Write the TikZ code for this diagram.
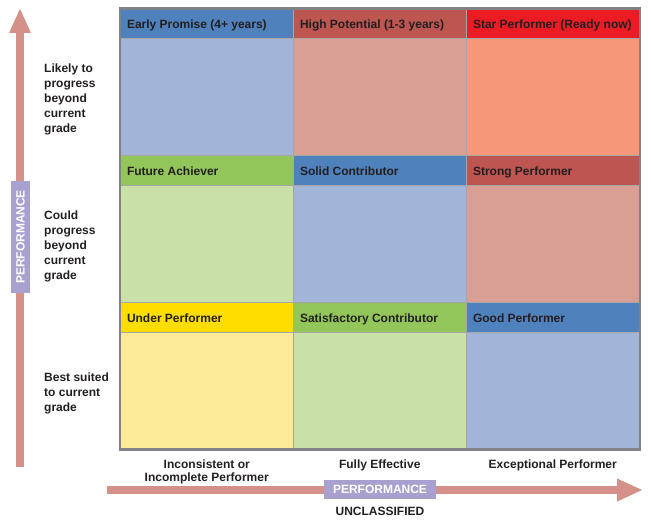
\documentclass[tikz,border=0pt]{standalone}
\usepackage{fontspec}
\setmainfont{Liberation Sans}
\usetikzlibrary{arrows.meta,positioning}
\definecolor{bluehead}{HTML}{4F81BD}
\definecolor{bluebody}{HTML}{A2B4D8}
\definecolor{redhead}{HTML}{BD5551}
\definecolor{redbody}{HTML}{D99F95}
\definecolor{starhead}{HTML}{ED1C24}
\definecolor{starbody}{HTML}{F7977A}
\definecolor{greenhead}{HTML}{92C65A}
\definecolor{greenbody}{HTML}{C9E1A9}
\definecolor{yellowhead}{HTML}{FFDD00}
\definecolor{yellowbody}{HTML}{FDEA99}
\definecolor{gridline}{HTML}{A6A6A6}
\definecolor{gridframe}{HTML}{808285}
\definecolor{axiscol}{HTML}{D4918A}
\definecolor{axisbox}{HTML}{A8A0CF}
\definecolor{ink}{HTML}{231F20}

\begin{document}
\begin{tikzpicture}[x=1pt, y=-1pt,
  head/.style={anchor=north west, inner xsep=6pt, inner ysep=0pt, minimum height=28.5pt, outer sep=0pt, text height=9pt, text depth=0pt, font=\bfseries\fontsize{12}{14}\selectfont, text=ink,
    execute at begin node={\hbox to 159.5pt\bgroup}, execute at end node={\hfil\egroup}},
  body/.style={minimum width=171.5pt, minimum height=115.5pt, inner sep=0pt, outer sep=0pt},
  rowlabel/.style={anchor=west, align=left, inner sep=0pt, font=\bfseries\fontsize{12}{15}\selectfont, text=ink},
  collabel/.style={align=center, inner sep=0pt, font=\bfseries\fontsize{12}{12.5}\selectfont, text=ink},
  axislabel/.style={fill=axisbox, text=white, minimum width=112pt, minimum height=19pt, inner sep=0pt, font=\bfseries\fontsize{12}{14}\selectfont},
  axisarrow/.style={draw=axiscol, line width=8pt, -{Triangle[length=25pt, width=20pt]}}
]
\useasboundingbox (0,0) rectangle (651,526);
\fill[gridline] (120,8.5) rectangle (640,449.5);

% top row
\node[head, fill=bluehead] (h11) at (121,9.5) {Early Promise (4+ years)};
\node[head, fill=redhead, right=1.5pt of h11] (h21) {High Potential (1-3 years)};
\node[head, fill=starhead, right=1.5pt of h21] (h31) {Star Performer (Ready now)};
\node[body, fill=bluebody, below=1.5pt of h11] (b11) {};
\node[body, fill=redbody, below=1.5pt of h21] (b21) {};
\node[body, fill=starbody, below=1.5pt of h31] (b31) {};

% middle row
\node[head, fill=greenhead, below=1.5pt of b11] (h12) {Future Achiever};
\node[head, fill=bluehead, below=1.5pt of b21] (h22) {Solid Contributor};
\node[head, fill=redhead, below=1.5pt of b31] (h32) {Strong Performer};
\node[body, fill=greenbody, below=1.5pt of h12] (b12) {};
\node[body, fill=bluebody, below=1.5pt of h22] (b22) {};
\node[body, fill=redbody, below=1.5pt of h32] (b32) {};

% bottom row
\node[head, fill=yellowhead, below=1.5pt of b12] (h13) {Under Performer};
\node[head, fill=greenhead, below=1.5pt of b22] (h23) {Satisfactory Contributor};
\node[head, fill=bluehead, below=1.5pt of b32] (h33) {Good Performer};
\node[body, fill=yellowbody, below=1.5pt of h13] (b13) {};
\node[body, fill=greenbody, below=1.5pt of h23] (b23) {};
\node[body, fill=bluebody, below=1.5pt of h33] (b33) {};

\draw[gridframe, line width=2.5pt] (120,8.5) rectangle (640,449.5);

% row and column labels
\node[rowlabel] (r1) at (44,99.5) {Likely to\\progress\\beyond\\current\\grade};
\node[rowlabel] (r2) at (44,246) {Could\\progress\\beyond\\current\\grade};
\node[rowlabel] (r3) at (44,393) {Best suited\\to current\\grade};
\node[collabel, below=11pt of b13] (c1) {Inconsistent or\\Incomplete Performer};
\node[collabel, below=11pt of b23] (c2) {Fully Effective};
\node[collabel, below=11pt of b33] (c3) {Exceptional Performer};

% axes
\coordinate (ybot) at (20,467);
\coordinate (ytop) at (20,8);
\draw[axisarrow] (ybot) -- (ytop);
\coordinate (xleft) at (107,490);
\coordinate (xright) at (643,490);
\draw[axisarrow, -{Triangle[length=26pt, width=21pt]}] (xleft) -- (xright);
\node[axislabel, rotate=90] (yperf) at (20.5,237) {PERFORMANCE};
\node[axislabel] (xperf) at (380,489.5) {PERFORMANCE};
\node[collabel, below=7.5pt of xperf] (uncl) {UNCLASSIFIED};
\end{tikzpicture}
\end{document}
